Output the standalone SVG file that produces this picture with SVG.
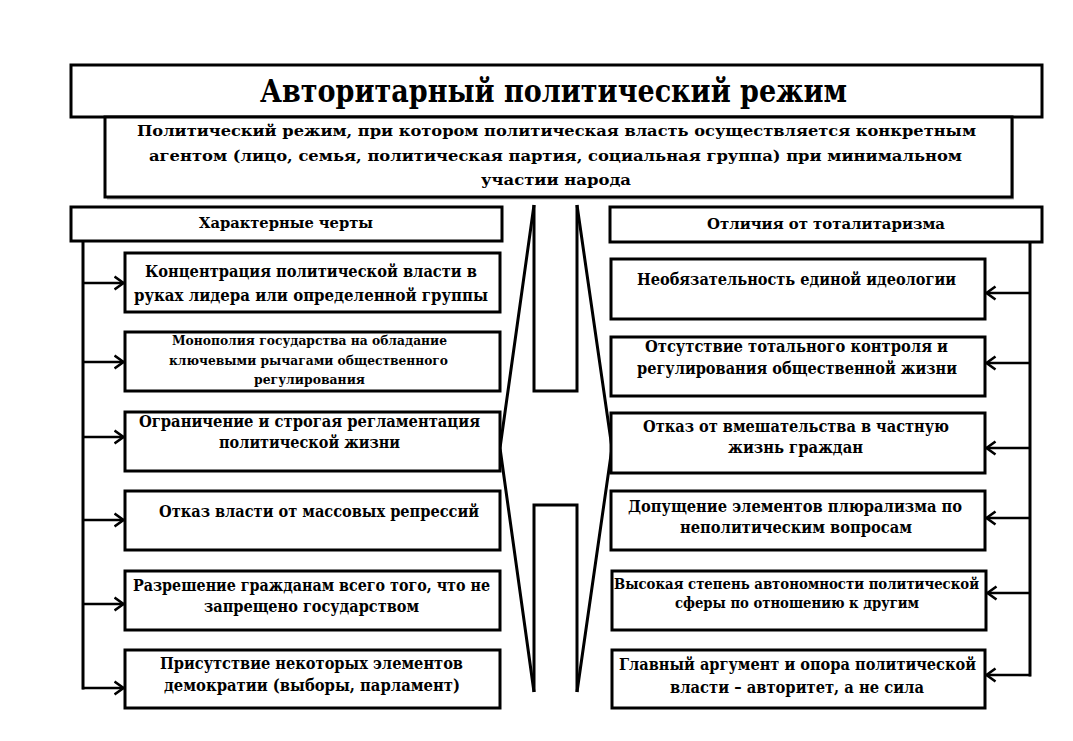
<svg xmlns="http://www.w3.org/2000/svg" width="1073" height="741" viewBox="0 0 1073 741">
<defs>
<marker id="ah" viewBox="0 0 12 16" refX="10.5" refY="8" markerWidth="12" markerHeight="16" markerUnits="userSpaceOnUse" orient="auto">
<path d="M1,1.5 L10,8 L1,14.5" fill="none" stroke="#000" stroke-width="2.6"/>
</marker>
</defs>
<style>
.box{fill:#fff;stroke:#000;stroke-width:3}
.sh{fill:#8a8a8a;opacity:0.6}
.t{font-family:'DejaVu Serif Condensed','DejaVu Serif','Liberation Serif',serif;font-stretch:condensed;font-weight:700;fill:#000}
.ln{fill:none;stroke:#000;stroke-width:3}
.ar{fill:none;stroke:#000;stroke-width:2.6;marker-end:url(#ah)}
</style>
<rect width="1073" height="741" fill="#fff"/>

<g id="title">
<rect class="box" x="71" y="65" width="971" height="52"/>
<text class="t" x="260" y="102" font-size="32" textLength="587" lengthAdjust="spacingAndGlyphs">Авторитарный политический режим</text>
</g>

<g id="definition">
<rect class="sh" x="107" y="119" width="907" height="80.5"/>
<rect class="box" x="105" y="117" width="907" height="80"/>
<text class="t" font-size="15.5"><tspan x="137" y="136" textLength="839" lengthAdjust="spacingAndGlyphs">Политический режим, при котором политическая власть осуществляется конкретным</tspan><tspan x="149" y="161" textLength="813" lengthAdjust="spacingAndGlyphs">агентом (лицо, семья, политическая партия, социальная группа) при минимальном</tspan><tspan x="481" y="185" textLength="150" lengthAdjust="spacingAndGlyphs">участии народа</tspan></text>
</g>

<g id="center-shape">
<path class="ln" d="M534,205 L500,448 L534,692"/>
<path class="ln" d="M577,205 L612,448 L577,692"/>
<path class="ln" d="M534,205 L534,391 L577,391 L577,205"/>
<path class="ln" d="M534,692 L534,505 L577,505 L577,692"/>
</g>

<g id="left-header">
<rect class="box" x="71" y="207" width="431" height="34"/>
<text class="t" x="199" y="228" font-size="14.5" textLength="174" lengthAdjust="spacingAndGlyphs">Характерные черты</text>
</g>
<g id="right-header">
<rect class="box" x="610" y="207" width="432" height="35"/>
<text class="t" x="707" y="229" font-size="14.5" textLength="238" lengthAdjust="spacingAndGlyphs">Отличия от тоталитаризма</text>
</g>

<g id="L1"><rect class="box" x="125" y="253" width="375" height="59"/>
<text class="t" font-size="16.5"><tspan x="145" y="277" textLength="332" lengthAdjust="spacingAndGlyphs">Концентрация политической власти в</tspan><tspan x="134" y="301" textLength="354" lengthAdjust="spacingAndGlyphs">руках лидера или определенной группы</tspan></text></g>
<g id="L2"><rect class="box" x="125" y="332" width="375" height="59"/>
<text class="t" font-size="12.5"><tspan x="172" y="345" textLength="275" lengthAdjust="spacingAndGlyphs">Монополия государства на обладание</tspan><tspan x="169" y="365" textLength="279" lengthAdjust="spacingAndGlyphs">ключевыми рычагами общественного</tspan><tspan x="254" y="384" textLength="111" lengthAdjust="spacingAndGlyphs">регулирования</tspan></text></g>
<g id="L3"><rect class="box" x="125" y="412" width="375" height="59"/>
<text class="t" font-size="16"><tspan x="139" y="427" textLength="341" lengthAdjust="spacingAndGlyphs">Ограничение и строгая регламентация</tspan><tspan x="219" y="448" textLength="181" lengthAdjust="spacingAndGlyphs">политической жизни</tspan></text></g>
<g id="L4"><rect class="box" x="125" y="491" width="375" height="59"/>
<text class="t" x="159" y="517" font-size="16" textLength="320" lengthAdjust="spacingAndGlyphs">Отказ власти от массовых репрессий</text></g>
<g id="L5"><rect class="box" x="125" y="571" width="375" height="59"/>
<text class="t" font-size="16"><tspan x="133" y="591" textLength="357" lengthAdjust="spacingAndGlyphs">Разрешение гражданам всего того, что не</tspan><tspan x="204" y="612" textLength="215" lengthAdjust="spacingAndGlyphs">запрещено государством</tspan></text></g>
<g id="L6"><rect class="box" x="125" y="650" width="375" height="58"/>
<text class="t" font-size="16"><tspan x="160" y="669" textLength="303" lengthAdjust="spacingAndGlyphs">Присутствие некоторых элементов</tspan><tspan x="164" y="691" textLength="296" lengthAdjust="spacingAndGlyphs">демократии (выборы, парламент)</tspan></text></g>

<g id="R1"><rect class="box" x="611" y="259" width="374" height="60"/>
<text class="t" x="637" y="285" font-size="16" textLength="319" lengthAdjust="spacingAndGlyphs">Необязательность единой идеологии</text></g>
<g id="R2"><rect class="box" x="611" y="337" width="374" height="59"/>
<text class="t" font-size="16"><tspan x="645" y="352" textLength="303" lengthAdjust="spacingAndGlyphs">Отсутствие тотального контроля и</tspan><tspan x="637" y="374" textLength="320" lengthAdjust="spacingAndGlyphs">регулирования общественной жизни</tspan></text></g>
<g id="R3"><rect class="box" x="611" y="413" width="374" height="60"/>
<text class="t" font-size="16"><tspan x="643" y="432" textLength="306" lengthAdjust="spacingAndGlyphs">Отказ от вмешательства в частную</tspan><tspan x="728" y="453" textLength="135" lengthAdjust="spacingAndGlyphs">жизнь граждан</tspan></text></g>
<g id="R4"><rect class="box" x="611" y="491" width="374" height="59"/>
<text class="t" font-size="16"><tspan x="628" y="512" textLength="334" lengthAdjust="spacingAndGlyphs">Допущение элементов плюрализма по</tspan><tspan x="680" y="533" textLength="232" lengthAdjust="spacingAndGlyphs">неполитическим вопросам</tspan></text></g>
<g id="R5"><rect class="box" x="612" y="571" width="374" height="59"/>
<text class="t" font-size="14"><tspan x="614" y="589" textLength="365" lengthAdjust="spacingAndGlyphs">Высокая степень автономности политической</tspan><tspan x="675" y="608" textLength="244" lengthAdjust="spacingAndGlyphs">сферы по отношению к другим</tspan></text></g>
<g id="R6"><rect class="box" x="612" y="650" width="373" height="58"/>
<text class="t" font-size="16"><tspan x="619" y="670" textLength="357" lengthAdjust="spacingAndGlyphs">Главный аргумент и опора политической</tspan><tspan x="670" y="693" textLength="254" lengthAdjust="spacingAndGlyphs">власти – авторитет, а не сила</tspan></text></g>

<g id="connectors">
<path class="ln" d="M83,241 L83,689.5"/>
<path class="ar" d="M82,283 L124,283"/>
<path class="ar" d="M82,362 L124,362"/>
<path class="ar" d="M82,437 L124,437"/>
<path class="ar" d="M82,520 L124,520"/>
<path class="ar" d="M82,604 L124,604"/>
<path class="ar" d="M82,688 L124,688"/>
<path class="ln" d="M1030,242 L1030,676.5"/>
<path class="ar" d="M1031,293 L986,293"/>
<path class="ar" d="M1031,363 L986,363"/>
<path class="ar" d="M1031,448 L986,448"/>
<path class="ar" d="M1031,518 L986,518"/>
<path class="ar" d="M1031,593 L987,593"/>
<path class="ar" d="M1031,675 L986,675"/>
</g>
</svg>
